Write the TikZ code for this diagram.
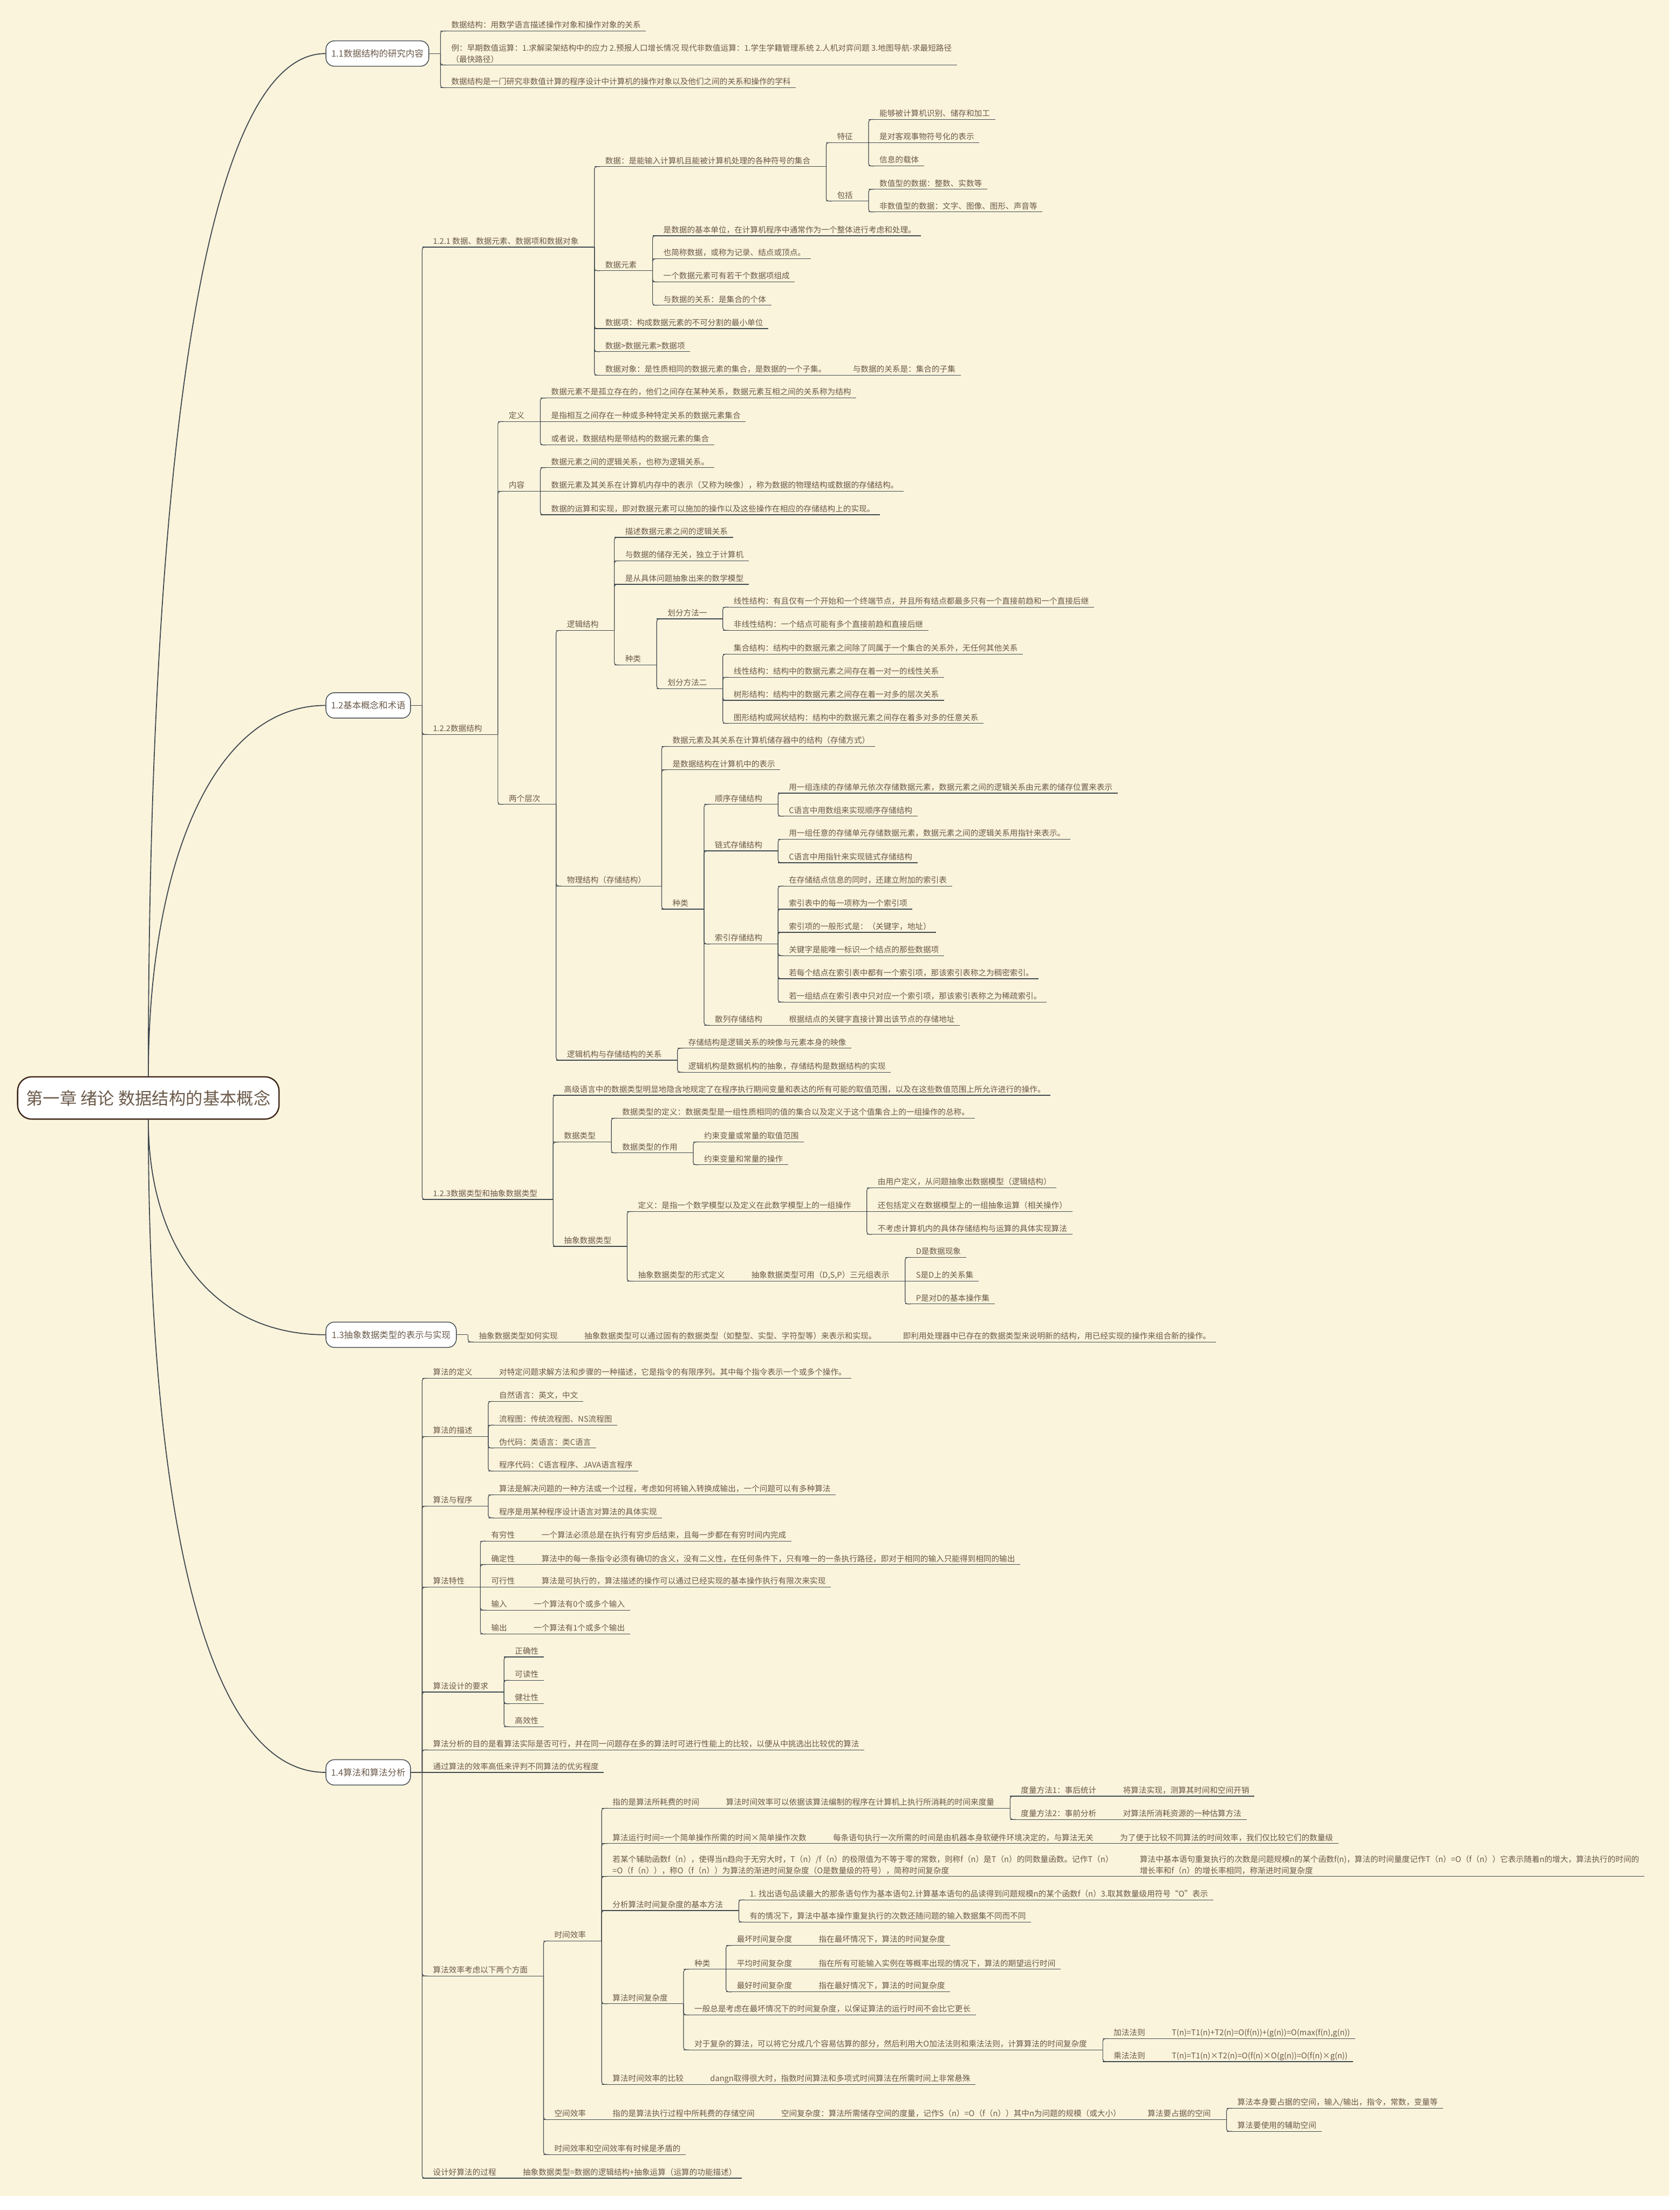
\documentclass[tikz,border=0pt]{standalone}
\usepackage{fontspec}
\setmainfont{Noto Sans CJK SC}
\definecolor{bgc}{HTML}{FBF4DC}
\definecolor{txtc}{HTML}{6B5A4A}
\definecolor{linec}{HTML}{404A52}
\definecolor{rootc}{HTML}{3A2216}
\tikzset{
  nd/.style={anchor=south west, inner xsep=0pt, inner ysep=1.3pt, text height=4.6pt, text depth=0.7pt, font=\fontsize{5.6}{7.8}\selectfont, text=txtc},
  ml/.style={align=left, text height={}, text depth={}},
  conn/.style={draw=linec, line width=0.45pt},
  lvlone/.style={draw=linec, line width=0.55pt, fill=white, rounded corners=6pt, inner xsep=3.5pt, inner ysep=0pt, minimum height=18pt, font=\fontsize{6.3}{7.6}\selectfont, text=txtc, anchor=west},
  rootbox/.style={draw=rootc, line width=0.9pt, fill=white, rounded corners=10pt, minimum width=185.5pt, minimum height=30pt, inner sep=0pt, font=\fontsize{12}{14}\selectfont, text=txtc},
  branch/.style={draw=linec, line width=0.7pt},
}
\newcommand\mmkid[5][]{%
  \node[nd,#1] (#3) at ([xshift=18.5pt]#2.south east |- 0,#4) {#5};
  \draw[conn] (#2.south east) -- ([xshift=11pt]#2.south east);
  \draw[conn,rounded corners=1.8pt] ([xshift=11pt]#2.south east) |- ([xshift=-3.5pt]#3.south west);
  \draw[conn] ([xshift=-7.5pt]#3.south west) -- ([xshift=3.5pt]#3.south east);}
\newcommand\mmnext[4][]{%
  \node[nd,#1] (#3) at ([xshift=18.5pt]#2.south east) {#4};
  \draw[conn] (#2.south east) -- ([xshift=3.5pt]#3.south east);}
\newcommand\mmbkid[5][]{%
  \node[nd,#1] (#3) at ([xshift=15.5pt]#2.east |- 0,#4) {#5};
  \draw[conn] (#2.east) -- ([xshift=8pt]#2.east);
  \draw[conn,rounded corners=1.8pt] ([xshift=8pt]#2.east) |- ([xshift=-3.5pt]#3.south west);
  \draw[conn] ([xshift=-7.5pt]#3.south west) -- ([xshift=3.5pt]#3.south east);}
\newcommand\mmbnext[4][]{%
  \node[nd,#1] (#3) at ([xshift=15.5pt]#2.east) {#4};
  \draw[conn] (#2.east) -- ([xshift=3.5pt]#3.south east);}
\begin{document}
\begin{tikzpicture}[x=1pt,y=-1pt]
\useasboundingbox (0,0) rectangle (1192,1568);
\fill[white] (0,0) rectangle (1192,1568);
\fill[bgc] (0,0) rectangle (1184.3,1558);
% root and level-1
\node[rootbox] (root) at (105.25,779) {第一章 绪论 数据结构的基本概念};
\node[lvlone, minimum width=73pt] (b11) at (231,38) {1.1数据结构的研究内容};
\node[lvlone, minimum width=60pt] (b12) at (231,500.5) {1.2基本概念和术语};
\node[lvlone, minimum width=92.5pt] (b13) at (231,947) {1.3抽象数据类型的表示与实现};
\node[lvlone, minimum width=60pt] (b14) at (231,1257.5) {1.4算法和算法分析};
\draw[branch] (root.north) .. controls +(0,-380) and +(-95,0) .. (b11.west);
\draw[branch] (root.north) .. controls +(0,-150) and +(-80,0) .. (b12.west);
\draw[branch] (root.south) .. controls +(0,90) and +(-80,0) .. (b13.west);
\draw[branch] (root.south) .. controls +(0,260) and +(-90,0) .. (b14.west);
% ---- 1.1
\mmbkid{b11}{a1}{22.0}{数据结构：用数学语言描述操作对象和操作对象的关系}
\mmbkid[ml]{b11}{a2}{46.1}{例：早期数值运算：1.求解梁架结构中的应力 2.预报人口增长情况 现代非数值运算：1.学生学籍管理系统 2.人机对弈问题 3.地图导航-求最短路径\\（最快路径）}
\mmbkid{b11}{a3}{62.2}{数据结构是一门研究非数值计算的程序设计中计算机的操作对象以及他们之间的关系和操作的学科}
% ---- 1.2
\mmbkid{b12}{s121}{175.3}{1.2.1 数据、数据元素、数据项和数据对象}
\mmbkid{b12}{s122}{521.1}{1.2.2数据结构}
\mmbkid{b12}{s123}{851.0}{1.2.3数据类型和抽象数据类型}
% 1.2.1
\mmkid{s121}{d1}{118.2}{数据：是能输入计算机且能被计算机处理的各种符号的集合}
\mmkid{s121}{d2}{192.1}{数据元素}
\mmkid{s121}{d3}{233.1}{数据项：构成数据元素的不可分割的最小单位}
\mmkid{s121}{d4}{249.5}{数据>数据元素>数据项}
\mmkid{s121}{d5}{266.2}{数据对象：是性质相同的数据元素的集合，是数据的一个子集。}
\mmnext{d5}{d5a}{与数据的关系是：集合的子集}
\mmkid{d1}{d1a}{101.2}{特征}
\mmkid{d1}{d1b}{142.7}{包括}
\mmkid{d1a}{d1a1}{84.8}{能够被计算机识别、储存和加工}
\mmnext{d1a}{d1a2}{是对客观事物符号化的表示}
\mmkid{d1a}{d1a3}{117.8}{信息的载体}
\mmkid{d1b}{d1b1}{134.3}{数值型的数据：整数、实数等}
\mmkid{d1b}{d1b2}{150.4}{非数值型的数据：文字、图像、图形、声音等}
\mmkid{d2}{d2a}{167.3}{是数据的基本单位，在计算机程序中通常作为一个整体进行考虑和处理。}
\mmkid{d2}{d2b}{183.6}{也简称数据，或称为记录、结点或顶点。}
\mmkid{d2}{d2c}{200.0}{一个数据元素可有若干个数据项组成}
\mmkid{d2}{d2d}{216.6}{与数据的关系：是集合的个体}
% 1.2.2
\mmkid{s122}{e1}{299.1}{定义}
\mmkid{s122}{e2}{348.6}{内容}
\mmkid{s122}{e3}{570.7}{两个层次}
\mmkid{e1}{e1a}{282.4}{数据元素不是孤立存在的，他们之间存在某种关系，数据元素互相之间的关系称为结构}
\mmnext{e1}{e1b}{是指相互之间存在一种或多种特定关系的数据元素集合}
\mmkid{e1}{e1c}{315.7}{或者说，数据结构是带结构的数据元素的集合}
\mmkid{e2}{e2a}{331.8}{数据元素之间的逻辑关系，也称为逻辑关系。}
\mmnext{e2}{e2b}{数据元素及其关系在计算机内存中的表示（又称为映像），称为数据的物理结构或数据的存储结构。}
\mmkid{e2}{e2c}{365.2}{数据的运算和实现，即对数据元素可以施加的操作以及这些操作在相应的存储结构上的实现。}
\mmkid{e3}{f1}{447.3}{逻辑结构}
\mmkid{e3}{f2}{628.7}{物理结构（存储结构）}
\mmkid{e3}{f3}{752.2}{逻辑机构与存储结构的关系}
\mmkid{f1}{f1a}{381.3}{描述数据元素之间的逻辑关系}
\mmkid{f1}{f1b}{397.9}{与数据的储存无关，独立于计算机}
\mmkid{f1}{f1c}{414.6}{是从具体问题抽象出来的数学模型}
\mmkid{f1}{f1d}{471.8}{种类}
\mmkid{f1d}{g1}{439.1}{划分方法一}
\mmkid{f1d}{g2}{488.7}{划分方法二}
\mmkid{g1}{g1a}{430.7}{线性结构：有且仅有一个开始和一个终端节点，并且所有结点都最多只有一个直接前趋和一个直接后继}
\mmkid{g1}{g1b}{447.2}{非线性结构：一个结点可能有多个直接前趋和直接后继}
\mmkid{g2}{g2a}{464.1}{集合结构：结构中的数据元素之间除了同属于一个集合的关系外，无任何其他关系}
\mmkid{g2}{g2b}{480.5}{线性结构：结构中的数据元素之间存在着一对一的线性关系}
\mmkid{g2}{g2c}{496.9}{树形结构：结构中的数据元素之间存在着一对多的层次关系}
\mmkid{g2}{g2d}{513.3}{图形结构或网状结构：结构中的数据元素之间存在着多对多的任意关系}
\mmkid{f2}{h1}{529.6}{数据元素及其关系在计算机储存器中的结构（存储方式）}
\mmkid{f2}{h2}{546.2}{是数据结构在计算机中的表示}
\mmkid{f2}{h3}{645.0}{种类}
\mmkid{h3}{i1}{570.7}{顺序存储结构}
\mmkid{h3}{i2}{603.7}{链式存储结构}
\mmkid{h3}{i3}{669.8}{索引存储结构}
\mmkid{h3}{i4}{727.4}{散列存储结构}
\mmkid{i1}{i1a}{562.7}{用一组连续的存储单元依次存储数据元素，数据元素之间的逻辑关系由元素的储存位置来表示}
\mmkid{i1}{i1b}{579.1}{C语言中用数组来实现顺序存储结构}
\mmkid{i2}{i2a}{595.5}{用一组任意的存储单元存储数据元素，数据元素之间的逻辑关系用指针来表示。}
\mmkid{i2}{i2b}{612.1}{C语言中用指针来实现链式存储结构}
\mmkid{i3}{i3a}{628.7}{在存储结点信息的同时，还建立附加的索引表}
\mmkid{i3}{i3b}{645.0}{索引表中的每一项称为一个索引项}
\mmkid{i3}{i3c}{661.5}{索引项的一般形式是：（关键字，地址）}
\mmkid{i3}{i3d}{678.0}{关键字是能唯一标识一个结点的那些数据项}
\mmkid{i3}{i3e}{694.4}{若每个结点在索引表中都有一个索引项，那该索引表称之为稠密索引。}
\mmkid{i3}{i3f}{711.0}{若一组结点在索引表中只对应一个索引项，那该索引表称之为稀疏索引。}
\mmnext{i4}{i4a}{根据结点的关键字直接计算出该节点的存储地址}
\mmkid{f3}{j1}{743.7}{存储结构是逻辑关系的映像与元素本身的映像}
\mmkid{f3}{j2}{760.7}{逻辑机构是数据机构的抽象，存储结构是数据结构的实现}
% 1.2.3
\mmkid{s123}{k1}{777.1}{高级语言中的数据类型明显地隐含地规定了在程序执行期间变量和表达的所有可能的取值范围，以及在这些数值范围上所允许进行的操作。}
\mmkid{s123}{k2}{810.3}{数据类型}
\mmkid{s123}{k3}{884.3}{抽象数据类型}
\mmkid{k2}{k2a}{793.4}{数据类型的定义：数据类型是一组性质相同的值的集合以及定义于这个值集合上的一组操作的总称。}
\mmkid{k2}{k2b}{818.0}{数据类型的作用}
\mmkid{k2b}{k2b1}{810.2}{约束变量或常量的取值范围}
\mmkid{k2b}{k2b2}{826.4}{约束变量和常量的操作}
\mmkid{k3}{k3a}{859.6}{定义：是指一个数学模型以及定义在此数学模型上的一组操作}
\mmkid{k3}{k3b}{909.0}{抽象数据类型的形式定义}
\mmkid{k3a}{k3a1}{842.8}{由用户定义，从问题抽象出数据模型（逻辑结构）}
\mmnext{k3a}{k3a2}{还包括定义在数据模型上的一组抽象运算（相关操作）}
\mmkid{k3a}{k3a3}{875.8}{不考虑计算机内的具体存储结构与运算的具体实现算法}
\mmnext{k3b}{k3c}{抽象数据类型可用（D,S,P）三元组表示}
\mmkid{k3c}{k3c1}{892.1}{D是数据现象}
\mmnext{k3c}{k3c2}{S是D上的关系集}
\mmkid{k3c}{k3c3}{925.2}{P是对D的基本操作集}
% ---- 1.3
\mmbkid{b13}{m1}{952.1}{抽象数据类型如何实现}
\mmnext{m1}{m2}{抽象数据类型可以通过固有的数据类型（如整型、实型、字符型等）来表示和实现。}
\mmnext{m2}{m3}{即利用处理器中已存在的数据类型来说明新的结构，用已经实现的操作来组合新的操作。}
% ---- 1.4
\mmbkid{b14}{n1}{977.9}{算法的定义}
\mmnext{n1}{n1a}{对特定问题求解方法和步骤的一种描述，它是指令的有限序列。其中每个指令表示一个或多个操作。}
\mmbkid{b14}{n2}{1019.2}{算法的描述}
\mmkid{n2}{n2a}{994.3}{自然语言：英文，中文}
\mmkid{n2}{n2b}{1011.1}{流程图：传统流程图、NS流程图}
\mmkid{n2}{n2c}{1027.4}{伪代码：类语言：类C语言}
\mmkid{n2}{n2d}{1043.7}{程序代码：C语言程序、JAVA语言程序}
\mmbkid{b14}{n3}{1068.6}{算法与程序}
\mmkid{n3}{n3a}{1060.6}{算法是解决问题的一种方法或一个过程，考虑如何将输入转换成输出，一个问题可以有多种算法}
\mmkid{n3}{n3b}{1076.9}{程序是用某种程序设计语言对算法的具体实现}
\mmbkid{b14}{n4}{1126.1}{算法特性}
\mmkid{n4}{p1}{1093.4}{有穷性}
\mmnext{p1}{p1a}{一个算法必须总是在执行有穷步后结束，且每一步都在有穷时间内完成}
\mmkid{n4}{p2}{1110.1}{确定性}
\mmnext{p2}{p2a}{算法中的每一条指令必须有确切的含义，没有二义性，在任何条件下，只有唯一的一条执行路径，即对于相同的输入只能得到相同的输出}
\mmnext{n4}{p3}{可行性}
\mmnext{p3}{p3a}{算法是可执行的，算法描述的操作可以通过已经实现的基本操作执行有限次来实现}
\mmkid{n4}{p4}{1142.4}{输入}
\mmnext{p4}{p4a}{一个算法有0个或多个输入}
\mmkid{n4}{p5}{1159.3}{输出}
\mmnext{p5}{p5a}{一个算法有1个或多个输出}
\mmbkid{b14}{n5}{1200.5}{算法设计的要求}
\mmkid{n5}{q1}{1175.6}{正确性}
\mmkid{n5}{q2}{1192.1}{可读性}
\mmkid{n5}{q3}{1208.8}{健壮性}
\mmkid{n5}{q4}{1225.1}{高效性}
\mmbkid{b14}{n6}{1241.5}{算法分析的目的是看算法实际是否可行，并在同一问题存在多的算法时可进行性能上的比较，以便从中挑选出比较优的算法}
\mmbnext{b14}{n7}{通过算法的效率高低来评判不同算法的优劣程度}
\mmbkid{b14}{n8}{1401.9}{算法效率考虑以下两个方面}
\mmbkid{b14}{n9}{1545.4}{设计好算法的过程}
\mmnext{n9}{n9a}{抽象数据类型=数据的逻辑结构+抽象运算（运算的功能描述）}
\mmkid{n8}{r1}{1377.1}{时间效率}
\mmkid{n8}{r2}{1503.9}{空间效率}
\mmkid{n8}{r3}{1528.6}{时间效率和空间效率有时候是矛盾的}
\mmkid{r1}{t1}{1283.0}{指的是算法所耗费的时间}
\mmnext{t1}{t1a}{算法时间效率可以依据该算法编制的程序在计算机上执行所消耗的时间来度量}
\mmkid{t1a}{t1a1}{1274.4}{度量方法1：事后统计}
\mmnext{t1a1}{t1a1x}{将算法实现，测算其时间和空间开销}
\mmkid{t1a}{t1a2}{1290.9}{度量方法2：事前分析}
\mmnext{t1a2}{t1a2x}{对算法所消耗资源的一种估算方法}
\mmkid{r1}{t2}{1308.0}{算法运行时间=一个简单操作所需的时间×简单操作次数}
\mmnext{t2}{t2a}{每条语句执行一次所需的时间是由机器本身软硬件环境决定的，与算法无关}
\mmnext{t2a}{t2b}{为了便于比较不同算法的时间效率，我们仅比较它们的数量级}
\mmkid[ml]{r1}{t3}{1331.3}{若某个辅助函数f（n），使得当n趋向于无穷大时，T（n）/f（n）的极限值为不等于零的常数，则称f（n）是T（n）的同数量函数。记作T（n）\\=O（f（n）），称O（f（n））为算法的渐进时间复杂度（O是数量级的符号），简称时间复杂度}
\mmnext[ml]{t3}{t3a}{算法中基本语句重复执行的次数是问题规模n的某个函数f(n)，算法的时间量度记作T（n）=O（f（n））它表示随着n的增大，算法执行的时间的\\增长率和f（n）的增长率相同，称渐进时间复杂度}
\mmkid{r1}{t4}{1355.5}{分析算法时间复杂度的基本方法}
\mmkid{t4}{t4a}{1347.9}{1. 找出语句品读最大的那条语句作为基本语句2.计算基本语句的品读得到问题规模n的某个函数f（n）3.取其数量级用符号“O”表示}
\mmkid{t4}{t4b}{1363.7}{有的情况下，算法中基本操作重复执行的次数还随问题的输入数据集不同而不同}
\mmkid{r1}{t5}{1421.7}{算法时间复杂度}
\mmkid{t5}{t5a}{1397.2}{种类}
\mmkid{t5a}{u1}{1380.3}{最坏时间复杂度}
\mmnext{u1}{u1a}{指在最坏情况下，算法的时间复杂度}
\mmnext{t5a}{u2}{平均时间复杂度}
\mmnext{u2}{u2a}{指在所有可能输入实例在等概率出现的情况下，算法的期望运行时间}
\mmkid{t5a}{u3}{1413.2}{最好时间复杂度}
\mmnext{u3}{u3a}{指在最好情况下，算法的时间复杂度}
\mmkid{t5}{t5b}{1429.6}{一般总是考虑在最坏情况下的时间复杂度，以保证算法的运行时间不会比它更长}
\mmkid{t5}{t5c}{1454.4}{对于复杂的算法，可以将它分成几个容易估算的部分，然后利用大O加法法则和乘法法则，计算算法的时间复杂度}
\mmkid{t5c}{v1}{1446.4}{加法法则}
\mmnext{v1}{v1a}{T(n)=T1(n)+T2(n)=O(f(n))+(g(n))=O(max(f(n),g(n))}
\mmkid{t5c}{v2}{1462.7}{乘法法则}
\mmnext{v2}{v2a}{T(n)=T1(n)×T2(n)=O(f(n)×O(g(n))=O(f(n)×g(n))}
\mmkid{r1}{t6}{1478.9}{算法时间效率的比较}
\mmnext{t6}{t6a}{dangn取得很大时，指数时间算法和多项式时间算法在所需时间上非常悬殊}
\mmnext{r2}{w1}{指的是算法执行过程中所耗费的存储空间}
\mmnext{w1}{w2}{空间复杂度：算法所需储存空间的度量，记作S（n）=O（f（n））其中n为问题的规模（或大小）}
\mmnext{w2}{w3}{算法要占据的空间}
\mmkid{w3}{w3a}{1495.8}{算法本身要占据的空间，输入/输出，指令，常数，变量等}
\mmkid{w3}{w3b}{1512.2}{算法要使用的辅助空间}
\end{tikzpicture}
\end{document}
